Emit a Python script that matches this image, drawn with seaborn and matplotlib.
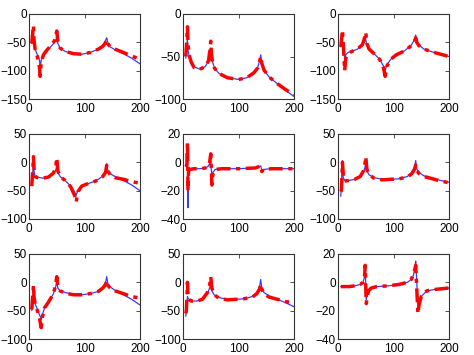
import matplotlib
matplotlib.use("Agg")
import matplotlib.pyplot as plt
import seaborn as sns
import pandas as pd

# ---- data ----
x1 = [5, 7, 8, 9, 11, 15, 19, 20, 22, 26, 32, 40, 46, 49, 50, 52, 56, 65, 80, 95, 110, 125, 133, 137, 139, 140, 142, 146, 155, 170, 185, 200]
b1 = [-52, -45, -35, -50, -62, -72, -82, -95, -82, -72, -65, -57, -50, -45, -42, -52, -60, -66, -70, -71, -68, -62, -56, -50, -44, -42, -50, -58, -63, -70, -78, -88]
r1 = [-52, -30, -20, -45, -62, -75, -95, -110, -85, -72, -64, -55, -47, -35, -30, -48, -60, -66, -70, -71, -68, -62, -57, -52, -47, -45, -52, -58, -62, -68, -74, -80]

x2 = [5, 7, 8, 9, 11, 15, 20, 30, 40, 46, 49, 50, 51, 53, 57, 65, 80, 100, 115, 128, 135, 138, 140, 142, 146, 155, 170, 185, 200]
b2 = [-52, -40, -30, -42, -50, -58, -62, -65, -62, -55, -45, -40, -48, -56, -64, -70, -75, -77, -75, -69, -62, -55, -48, -58, -66, -74, -82, -90, -97]
r2 = [-50, -30, -15, -35, -48, -57, -63, -65, -62, -55, -40, -32, -45, -56, -64, -70, -75, -77, -75, -69, -63, -56, -50, -58, -66, -74, -82, -89, -95]

x3 = [5, 7, 8, 9, 11, 12, 14, 18, 25, 35, 44, 48, 50, 52, 56, 65, 75, 82, 85, 88, 95, 105, 120, 132, 138, 140, 142, 146, 155, 170, 185, 200]
b3 = [-58, -52, -50, -55, -70, -78, -72, -68, -66, -62, -55, -48, -45, -55, -62, -70, -80, -92, -100, -90, -80, -72, -65, -55, -45, -37, -48, -55, -62, -67, -71, -75]
r3 = [-58, -40, -28, -45, -80, -100, -78, -70, -66, -62, -54, -42, -32, -52, -62, -70, -80, -95, -110, -92, -80, -72, -65, -56, -48, -42, -50, -56, -62, -67, -71, -75]

x4 = [5, 7, 8, 9, 11, 15, 25, 35, 44, 48, 50, 52, 56, 65, 75, 82, 85, 88, 95, 105, 120, 132, 138, 140, 142, 146, 155, 170, 185, 200]
b4 = [-40, -15, -5, -15, -25, -26, -28, -26, -20, -14, -8, -18, -25, -32, -42, -52, -58, -50, -42, -38, -33, -25, -15, -3, -14, -20, -25, -32, -40, -50]
r4 = [-42, -10, 10, -10, -25, -27, -28, -26, -19, -10, 8, -15, -25, -32, -43, -58, -70, -52, -42, -38, -33, -26, -18, -5, -15, -22, -27, -30, -34, -37]

x5 = [5, 7, 8, 8.5, 9, 10, 12, 20, 30, 40, 45, 48, 50, 51, 52, 54, 58, 70, 100, 130, 137, 140, 142, 145, 160, 200]
b5 = [-3, -2, 5, -10, -32, -6, -5, -4.5, -4.5, -4, -3, -1, 5, -5, -10, -7, -5, -4.5, -4.5, -4, -3, -2.5, -6, -5, -4.5, -4.5]
r5 = [-3, -2, 14, 0, -20, -6, -5, -4.5, -4.5, -4, -3, 0, 6, -5, -16, -8, -5, -4.5, -4.5, -4, -3, -2.5, -6.5, -5, -4.5, -4.5]

x6 = [5, 6, 7, 8, 9, 10, 12, 20, 30, 40, 46, 49, 50, 52, 56, 65, 80, 95, 110, 125, 133, 138, 140, 142, 146, 155, 170, 185, 200]
b6 = [-60, -40, -20, 3, -25, -28, -32, -32, -30, -25, -17, -8, -3, -15, -22, -27, -30, -30, -29, -25, -18, -8, 3, -12, -18, -24, -28, -32, -35]
r6 = [-52, -50, -30, 0, -15, -28, -33, -32, -30, -25, -15, 0, 10, -12, -22, -28, -31, -30, -29, -26, -20, -12, -5, -14, -20, -25, -29, -33, -36]

x7 = [5, 7, 8, 9, 11, 14, 18, 21, 22, 24, 28, 35, 44, 48, 50, 52, 56, 65, 80, 95, 110, 125, 133, 138, 140, 142, 146, 155, 170, 185, 200]
b7 = [-50, -35, -25, -32, -38, -45, -55, -62, -66, -58, -45, -35, -20, -8, 0, -10, -15, -18, -21, -22, -20, -16, -8, 0, 10, -2, -8, -14, -22, -30, -40]
r7 = [-48, -20, -5, -25, -38, -47, -58, -75, -80, -62, -45, -35, -20, -5, 10, -8, -15, -19, -22, -22, -20, -16, -10, -4, 3, -5, -10, -15, -20, -25, -28]

x8 = [5, 6, 7, 8, 9, 11, 15, 25, 35, 44, 48, 50, 52, 56, 65, 80, 95, 110, 125, 133, 138, 140, 142, 146, 155, 170, 185, 200]
b8 = [-60, -50, -40, -25, -28, -30, -33, -33, -30, -20, -10, -3, -15, -22, -27, -30, -30, -29, -25, -18, -8, 5, -10, -18, -24, -30, -36, -43]
r8 = [-55, -50, -30, 0, -20, -30, -33, -33, -30, -18, -5, 10, -10, -22, -28, -31, -30, -29, -26, -20, -12, -3, -12, -20, -26, -30, -34, -36]

x9 = [5, 10, 20, 30, 40, 45, 48, 49, 50, 51, 52, 55, 60, 70, 90, 110, 125, 132, 136, 139, 140, 142, 144, 146, 150, 160, 175, 200]
b9 = [-3, -3, -3, -2.5, -1.5, 0, 4, 8, 0, -12, -10, -6, -4, -3, -2.5, -1.5, 0, 2, 5, 12, 15, 0, -18, -15, -10, -6, -5, -4]
r9 = [-3, -3, -3, -2.5, -1.5, 0, 5, 12, -3, -15, -11, -6, -4, -3, -2.5, -1.5, 0, 2, 6, 10, 12, -5, -22, -16, -10, -6, -5, -4]

xticks = [0, 100, 200]
yticks_150 = [-150, -100, -50, 0]
yticks_100 = [-100, -50, 0]
yticks_50 = [-100, -50, 0, 50]
yticks_20 = [-40, -20, 0, 20]

panels = [
    (x1, b1, r1, yticks_150),
    (x2, b2, r2, yticks_100),
    (x3, b3, r3, yticks_150),
    (x4, b4, r4, yticks_50),
    (x5, b5, r5, yticks_20),
    (x6, b6, r6, yticks_50),
    (x7, b7, r7, yticks_50),
    (x8, b8, r8, yticks_50),
    (x9, b9, r9, yticks_20),
]

sns.set_style("white")
plt.rcParams['font.family'] = ['Liberation Sans', 'DejaVu Sans']

fig = plt.figure(figsize=(4.74, 3.55), dpi=100)
W, H = 474, 355
lefts = [29, 183, 338]
tops = [14, 134, 254]
aw, ah = 111, 85

for i, (x, b, r, yt) in enumerate(panels):
    row, col = divmod(i, 3)
    ax = fig.add_axes([lefts[col] / W, 1 - (tops[row] + ah) / H, aw / W, ah / H])
    df = pd.DataFrame({"x": x, "blue": b, "red": r})
    sns.lineplot(data=df, x="x", y="blue", ax=ax, color="#3a3aff", linewidth=0.9, sort=False)
    sns.lineplot(data=df, x="x", y="red", ax=ax, color="#ff0000", linewidth=2.5,
                 sort=False, dashes=False)
    ax.lines[-1].set_dashes([4, 1.6, 1.2, 1.6])
    ax.set_xlim(0, 200)
    ax.set_ylim(yt[0], yt[-1])
    ax.set_xticks(xticks)
    ax.set_yticks(yt)
    ax.set_xlabel("")
    ax.set_ylabel("")
    ax.tick_params(direction="in", length=3, width=0.6, labelsize=8.5, pad=1.5,
                   top=True, right=True, colors="#333333", labelcolor="black")
    ax.tick_params(axis="x", pad=3)
    for s in ax.spines.values():
        s.set_color("#333333")
        s.set_linewidth(0.8)
        s.set_visible(True)

fig.savefig("out.png", dpi=100)
